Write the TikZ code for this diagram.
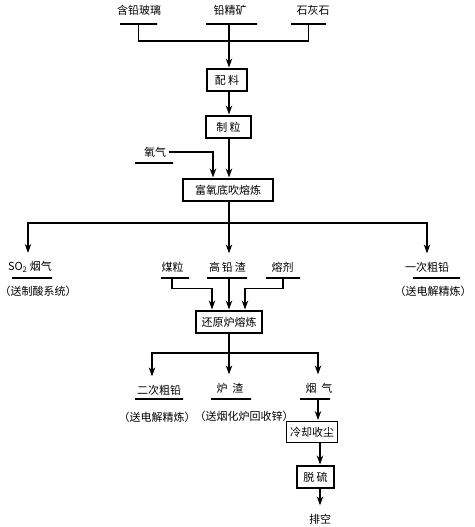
\documentclass[tikz,border=0pt]{standalone}
\usepackage{fontspec}
\newfontfamily\cjk{Noto Sans CJK SC}
\usetikzlibrary{arrows.meta}

\begin{document}
\begin{tikzpicture}[x=1pt, y=-1pt, line width=1.1pt,
	every node/.style={font=\cjk\fontsize{11}{13}\selectfont},
	box/.style={draw, minimum height=22pt, inner sep=2pt},
	lbl/.style={inner sep=2pt},
	bar/.style={draw, inner sep=0pt, minimum height=0pt},
	flow/.style={-{Stealth[length=9pt,width=6.5pt]}, shorten >=1pt},
	tolbl/.style={flow, shorten >=6pt}]
	\useasboundingbox (0,0) rectangle (474,527);
	\node[lbl] (glass) at (139,10) {含铅玻璃};
	\node[lbl] (ore) at (230,10) {铅精矿};
	\node[lbl] (lime) at (313,10) {石灰石};
	\node[bar, minimum width=37pt] (glassbar) at (138.5,24) {};
	\node[bar, minimum width=51pt] (orebar) at (231.5,24) {};
	\node[bar, minimum width=35pt] (limebar) at (308.5,24) {};
	\coordinate (join) at (229,41);
	\node[box, minimum width=40pt] (peiliao) at (227,80) {配\ 料};
	\node[box, minimum width=45pt] (zhili) at (228.5,127) {制\ 粒};
	\node[lbl] (o2) at (155,152) {氧气};
	\node[bar, minimum width=38pt] (o2bar) at (154,163) {};
	\node[box, minimum width=90pt] (fuyang) at (228,190) {富氧底吹熔炼};
	\coordinate (split1) at (229,223);
	\node[lbl] (so2) at (30,267) {SO\textsubscript{2} 烟气};
	\node[bar, minimum width=40pt] (so2bar) at (32,278) {};
	\node[lbl] (so2note) at (38,291) {（送制酸系统）};
	\node[lbl] (mei) at (172.5,267) {煤粒};
	\node[bar, minimum width=28pt] (meibar) at (175,278) {};
	\node[lbl] (gaoqian) at (227.5,267) {高\,铅\,渣};
	\node[bar, minimum width=40pt] (gqbar) at (227,278) {};
	\node[lbl] (rongji) at (282.5,267) {熔剂};
	\node[bar, minimum width=34pt] (rjbar) at (283,278) {};
	\node[lbl] (yici) at (427,267) {一次粗铅};
	\node[bar, minimum width=47pt] (yicibar) at (436.5,278) {};
	\node[lbl] (yicinote) at (433,291) {（送电解精炼）};
	\node[box, minimum width=66pt] (huanyuan) at (229,322) {还原炉熔炼};
	\coordinate (split2) at (229,353);
	\node[lbl] (erci) at (159,390) {二次粗铅};
	\node[bar, minimum width=48pt] (ercibar) at (159,399) {};
	\node[lbl] (ercinote) at (157,417) {（送电解精炼）};
	\node[lbl] (luzha) at (230,388) {炉\ \ 渣};
	\node[bar, minimum width=40pt] (luzhabar) at (231,399) {};
	\node[lbl] (luzhanote) at (244,416) {（送烟化炉回收锌）};
	\node[lbl] (yanqi) at (319,388) {烟\ \ 气};
	\node[bar, minimum width=30pt] (yanqibar) at (315,399) {};
	\node[box, minimum width=51pt, minimum height=21pt] (lengque) at (312,432) {冷却收尘};
	\node[box, minimum width=37pt] (tuoliu) at (315.5,477) {脱\ 硫};
	\node[lbl] (paikong) at (320,519) {排空};

	\draw (glassbar) |- (join) -| (limebar);
	\draw[flow] (orebar.south -| join) -- (peiliao.north -| join);
	\draw[flow] (peiliao.south -| join) -- (zhili.north -| join);
	\draw[flow] (zhili.south -| join) -- (fuyang.north -| join);
	\draw[flow] (o2.east) -| ([xshift=-15pt]fuyang.north);
	\draw (fuyang.south -| split1) -- (split1);
	\draw[tolbl] (split1) -| (so2.north -| 28,0);
	\draw[tolbl] (split1) -| (yici);
	\draw[tolbl] (split1) -- (gaoqian.north -| split1);
	\draw[flow] (meibar.south -| 172,0) |- ([xshift=-17pt, yshift=22pt]huanyuan.north) -- ([xshift=-17pt]huanyuan.north);
	\draw[flow] (gqbar.south -| huanyuan) -- (huanyuan.north);
	\draw[flow] (rjbar) |- ([xshift=16pt, yshift=22pt]huanyuan.north) -- ([xshift=16pt]huanyuan.north);
	\draw (huanyuan) -- (split2);
	\draw[tolbl] (split2) -| (152,0 |- erci.north);
	\draw[tolbl] (split2) -- (luzha.north -| split2);
	\draw[tolbl] (split2) -| (318,0 |- yanqi.north);
	\draw[flow] (yanqibar.south -| 318,0) -- (lengque.north -| 318,0);
	\draw[flow] (lengque.south -| 320,0) -- (tuoliu.north -| 320,0);
	\draw[tolbl] (tuoliu.south -| 320,0) -- (paikong.north -| 320,0);
\end{tikzpicture}
\end{document}
